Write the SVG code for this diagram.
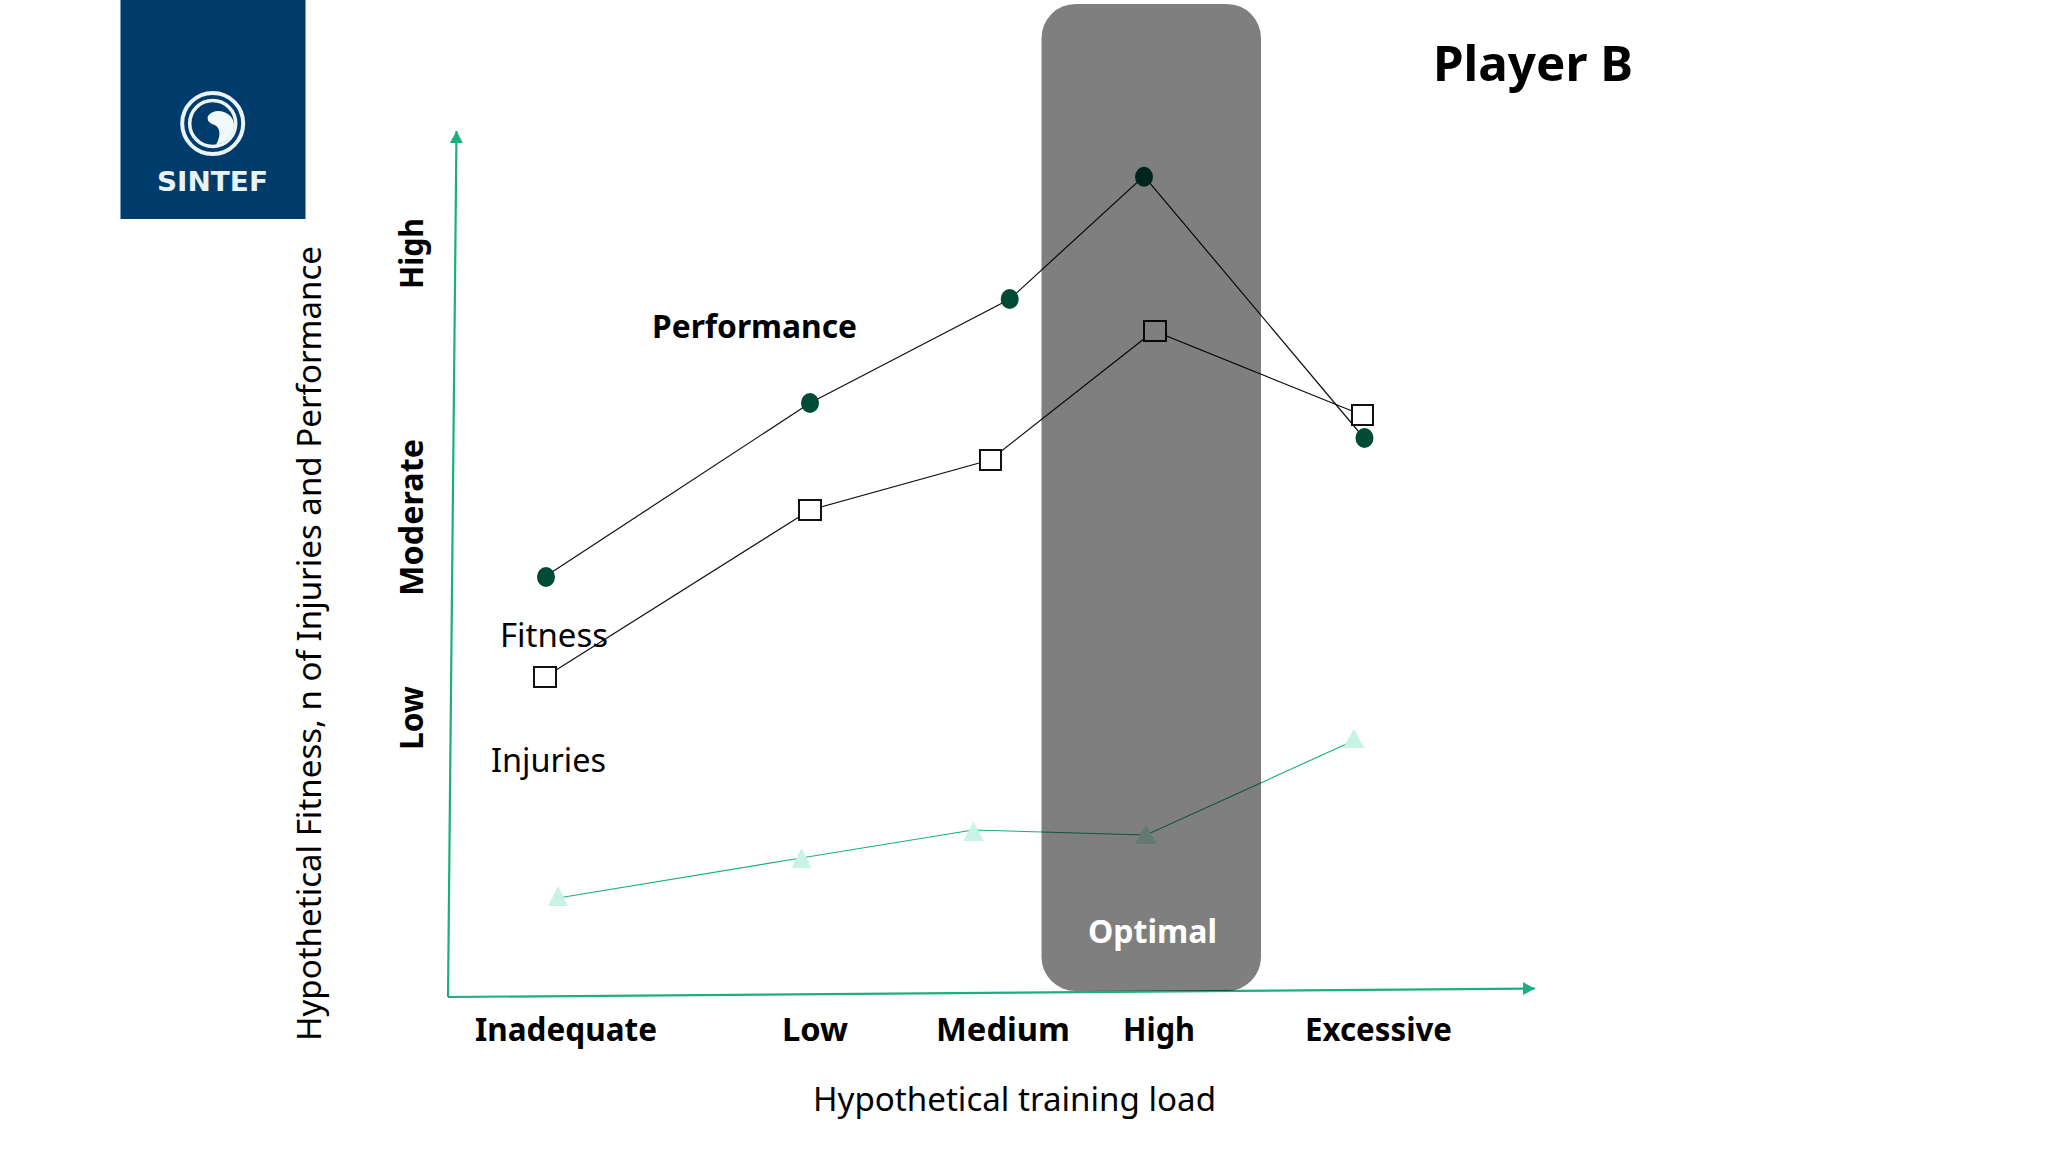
<svg xmlns="http://www.w3.org/2000/svg" width="2048" height="1152" viewBox="0 0 2048 1152">
<defs>
<style>
text{font-family:"Noto Sans","Open Sans",sans-serif;fill:#000}
.b{font-weight:700}
.l{font-size:33px}
.r{font-size:33px}
.line{fill:none;stroke:#111;stroke-width:1.2}
.inj{fill:none;stroke:#1aae80;stroke-width:1.1}
.ax{fill:none;stroke:#1aae80;stroke-width:2.2}
.dot{fill:#004b35}
.sq{fill:#fff;stroke:#111;stroke-width:2}
.tri{fill:#c8f5e3}
</style>
<marker id="arr" markerUnits="userSpaceOnUse" markerWidth="14" markerHeight="14" refX="12" refY="6.5" orient="auto"><path d="M0 0L12 6.5L0 13Z" fill="#1aae80"/></marker>
</defs>
<rect width="2048" height="1152" fill="#fff"/>
<g id="logo">
<rect x="120.500" y="0" width="185" height="219" fill="#003c6b"/>
<circle cx="212.700" cy="123.500" r="30.500" fill="none" stroke="#eaf4f8" stroke-width="4"/>
<circle cx="212.700" cy="123.500" r="23" fill="none" stroke="#eaf4f8" stroke-width="3.500"/>
<path d="M208 116C215 106 234 112 234 125C234 136 226 142 216 145C222 134 220 126 212 124C208 122 207 119 208 116Z" fill="#f2f9fb"/>
<text x="157" y="191" font-size="26" class="b" textLength="111" lengthAdjust="spacingAndGlyphs" style="fill:#e8f3f6;font-family:'DejaVu Sans',sans-serif">SINTEF</text>
</g>
<g id="connectors">
<path class="ax" d="M448 997L456.500 131" marker-end="url(#arr)"/>
<path class="ax" d="M448 997L1535 988.500" marker-end="url(#arr)"/>
<polyline class="line" points="546,576 810,403 1010,299 1144,176 1364,438"/>
<polyline class="line" points="545,677 810,510 990,460 1154,331 1362,415"/>
<polyline class="inj" points="558,898 801,858 973,830 1146,835 1353,741"/>
</g>
<g id="performance-points">
<ellipse class="dot" cx="546" cy="577" rx="9" ry="10"/>
<ellipse class="dot" cx="810" cy="403" rx="9" ry="10"/>
<ellipse class="dot" cx="1009.700" cy="299" rx="9" ry="10"/>
<ellipse class="dot" cx="1144" cy="176.700" rx="9" ry="10"/>
<ellipse class="dot" cx="1364.500" cy="438" rx="9" ry="10"/>
</g>
<g id="fitness-points">
<rect class="sq" x="534" y="667" width="22" height="20"/>
<rect class="sq" x="799" y="500" width="22" height="20"/>
<rect class="sq" x="980" y="450" width="21" height="20"/>
<rect class="sq" x="1144" y="321" width="22" height="20"/>
<rect class="sq" x="1352" y="405" width="21" height="20"/>
</g>
<g id="injuries-points">
<path class="tri" d="M558 886L568 906H548Z"/>
<path class="tri" d="M801.500 848L811.500 868H791.500Z"/>
<path class="tri" d="M973.500 821L983.500 841H963.500Z"/>
<path class="tri" d="M1146 825L1157 844H1135Z"/>
<path class="tri" d="M1354 729L1364 748H1343Z"/>
</g>
<g id="optimal-band">
<rect x="1041.500" y="4" width="219.500" height="987" rx="34" fill="#000" fill-opacity="0.5"/>
<text x="1088" y="943" class="b l" style="fill:#fff" textLength="129" lengthAdjust="spacingAndGlyphs">Optimal</text>
</g>
<g id="title"><text x="1433" y="81" class="b" font-size="49" textLength="200" lengthAdjust="spacingAndGlyphs">Player B</text></g>
<g id="y-levels">
<text transform="translate(423 289) rotate(-90)" class="b r" textLength="71" lengthAdjust="spacingAndGlyphs">High</text>
<text transform="translate(423 596) rotate(-90)" class="b r" textLength="157" lengthAdjust="spacingAndGlyphs">Moderate</text>
<text transform="translate(423 750) rotate(-90)" class="b r" textLength="64" lengthAdjust="spacingAndGlyphs">Low</text>
</g>
<g id="y-title"><text transform="translate(321 1041) rotate(-90)" font-size="33" textLength="795" lengthAdjust="spacingAndGlyphs">Hypothetical Fitness, n of Injuries and Performance</text></g>
<g id="x-levels">
<text x="475" y="1041" class="b l" textLength="182" lengthAdjust="spacingAndGlyphs">Inadequate</text>
<text x="782" y="1041" class="b l" textLength="66" lengthAdjust="spacingAndGlyphs">Low</text>
<text x="936" y="1041" class="b l" textLength="134" lengthAdjust="spacingAndGlyphs">Medium</text>
<text x="1123" y="1041" class="b l" textLength="72" lengthAdjust="spacingAndGlyphs">High</text>
<text x="1305" y="1041" class="b l" textLength="147" lengthAdjust="spacingAndGlyphs">Excessive</text>
</g>
<g id="x-title"><text x="813" y="1111" font-size="33" textLength="403" lengthAdjust="spacingAndGlyphs">Hypothetical training load</text></g>
<g id="series-labels">
<text x="652" y="338" class="b l" textLength="205" lengthAdjust="spacingAndGlyphs">Performance</text>
<text x="500" y="647" font-size="33" textLength="108" lengthAdjust="spacingAndGlyphs">Fitness</text>
<text x="491" y="772" font-size="33" textLength="115" lengthAdjust="spacingAndGlyphs">Injuries</text>
</g>
</svg>
